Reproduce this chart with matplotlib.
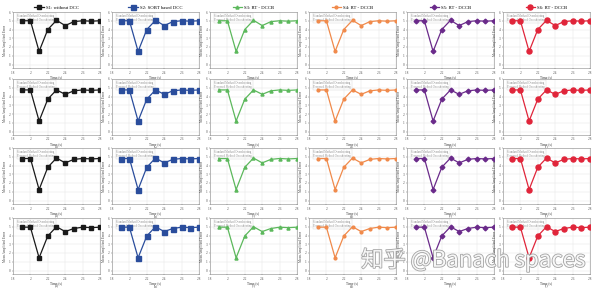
import matplotlib
matplotlib.use("Agg")
import matplotlib.pyplot as plt
import matplotlib.patheffects as pe

# time axis (s)
time_s = [1.9, 2.0, 2.1, 2.2, 2.3, 2.4, 2.5, 2.6, 2.7, 2.8]

# mean amplified error, one series per row of panels
row1 = [5.0, 5.0, 1.5, 4.0, 5.05, 4.45, 4.9, 5.0, 4.95, 5.0]
row2 = [4.75, 4.75, 1.2, 3.7, 4.75, 4.25, 4.65, 4.75, 4.7, 4.75]
row3 = [4.8, 4.8, 1.25, 3.8, 4.85, 4.3, 4.7, 4.8, 4.75, 4.8]
row4 = [4.95, 4.95, 1.45, 3.95, 5.0, 4.45, 4.8, 4.95, 4.9, 4.95]
rows = [row1, row2, row3, row4]

labels = ["S1: without DCC", "S2: SOBT based DCC", "S3: RT - DCCB",
          "S4: RT - DCCB", "S5: RT - DCCB", "S6: RT - DCCB"]
captions = ["(a)", "(b)", "(c)", "(d)", "(e)", "(f)"]
colors = ["#1a1a1a", "#2a4d9c", "#5cb85c", "#f08a4b", "#6a2a8a", "#e0253a"]
markers = ["s", "s", "^", "o", "D", "o"]
msizes = [2.2, 3.6, 2.2, 2.0, 2.4, 3.6]

W, H = 600, 288
fig = plt.figure(figsize=(6, 2.88), dpi=100)
plt.rcParams['font.family'] = ['Liberation Serif', 'DejaVu Serif']

lefts = [13, 112, 210, 309, 407, 503]
tops = [12, 79, 148, 218]
aw, ah = 87, 56

for r, vals in enumerate(rows):
    for c in range(6):
        ax = fig.add_axes([lefts[c] / W, 1 - (tops[r] + ah) / H, aw / W, ah / H])
        ax.plot(time_s, vals, color=colors[c], marker=markers[c], ms=msizes[c],
                lw=0.9, label=labels[c], zorder=3)
        ax.set_xlim(1.8, 2.8)
        ax.set_ylim(-0.4, 6)
        ax.set_xticks([1.8, 2.0, 2.2, 2.4, 2.6, 2.8])
        ax.set_xticklabels(["1.8", "2", "2.2", "2.4", "2.6", "2.8"])
        ax.set_yticks([0, 1, 2, 3, 4, 5, 6])
        ax.tick_params(labelsize=2.5, length=1, width=0.3, pad=0.8, colors="#555555")
        ax.grid(True, color="#e4e4e4", lw=0.35)
        for s in ax.spines.values():
            s.set_linewidth(0.4)
            s.set_color("#888888")
        ax.set_ylabel("Mean Amplified Error", fontsize=2.5, labelpad=1.5, color="#444444")
        ax.set_xlabel("Time (s)\n" + captions[c], fontsize=2.6, labelpad=0.3,
                      color="#333333", linespacing=0.85)
        ax.text(0.05, 0.97, "Standard Method Overshooting\nProposed Method Overshooting",
                transform=ax.transAxes, fontsize=2.1, color="#888888", va="top",
                linespacing=1.15, zorder=1,
                bbox=dict(boxstyle="square,pad=0.2", fc="none", ec="#d0d0d0", lw=0.3))
        if r == 0:
            ax.legend(loc="lower center", bbox_to_anchor=(0.5, 1.0), frameon=False,
                      fontsize=3.4, handlelength=2.0, borderaxespad=0.1,
                      handletextpad=0.5)

fig.text(585 / W, 1 - 260 / H, "知乎 @Banach spaces", fontsize=16, ha="right",
         va="center", color="white", alpha=0.9,
         family=["Noto Sans CJK SC", "DejaVu Sans"],
         path_effects=[pe.withStroke(linewidth=1.2, foreground="#9a9a9a")])

fig.savefig("out.png", dpi=100)
